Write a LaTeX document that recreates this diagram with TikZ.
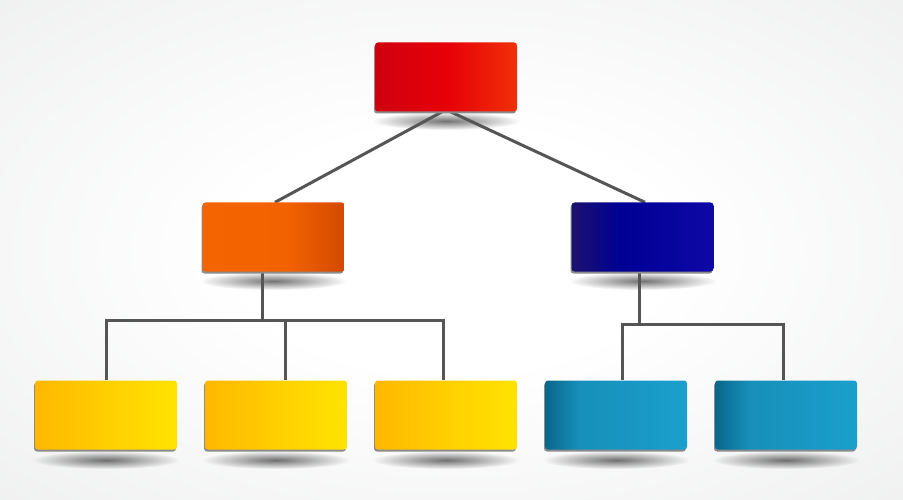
\documentclass[tikz,border=0pt]{standalone}
\usetikzlibrary{shadows,fadings}
\pgfdeclarelayer{bg}
\pgfdeclarelayer{mid}
\pgfsetlayers{bg,mid,main}
\definecolor{lnc}{HTML}{555555}
\definecolor{bgedge}{HTML}{E2E3E4}
\definecolor{redA}{HTML}{CF0010}
\definecolor{redB}{HTML}{E60008}
\definecolor{redC}{HTML}{F03008}
\definecolor{orA}{HTML}{F46400}
\definecolor{orB}{HTML}{F26200}
\definecolor{orC}{HTML}{D44A00}
\definecolor{blA}{HTML}{1C126E}
\definecolor{blB}{HTML}{000094}
\definecolor{blC}{HTML}{0E08A6}
\definecolor{yeA}{HTML}{FFB800}
\definecolor{yeB}{HTML}{FFCF00}
\definecolor{yeC}{HTML}{FFE300}
\definecolor{teA}{HTML}{08668A}
\definecolor{teB}{HTML}{178FBA}
\definecolor{teC}{HTML}{1AA0CC}
\pgfdeclareradialshading{bgshade}{\pgfpoint{0bp}{0bp}}{color(0bp)=(white); color(12bp)=(white); color(58bp)=(bgedge); color(75bp)=(bgedge)}
\pgfdeclarehorizontalshading{redsh}{100bp}{color(0bp)=(redA); color(25bp)=(redA); color(50bp)=(redB); color(75bp)=(redC); color(100bp)=(redC)}
\pgfdeclarehorizontalshading{orangesh}{100bp}{color(0bp)=(orA); color(25bp)=(orA); color(55bp)=(orB); color(75bp)=(orC); color(100bp)=(orC)}
\pgfdeclarehorizontalshading{bluesh}{100bp}{color(0bp)=(blA); color(25bp)=(blA); color(42bp)=(blB); color(75bp)=(blC); color(100bp)=(blC)}
\pgfdeclarehorizontalshading{yellowsh}{100bp}{color(0bp)=(yeA); color(25bp)=(yeA); color(50bp)=(yeB); color(75bp)=(yeC); color(100bp)=(yeC)}
\pgfdeclarehorizontalshading{tealsh}{100bp}{color(0bp)=(teA); color(25bp)=(teA); color(37bp)=(teB); color(75bp)=(teC); color(100bp)=(teC)}
\tikzfading[name=shfade, inner color=transparent!0, outer color=transparent!100]
\tikzset{
  box/.style={minimum width=142pt, minimum height=69pt, rounded corners=3pt, inner sep=0pt,
    general shadow={shadow xshift=-1pt, shadow yshift=-2pt, fill=black!45}},
  redbox/.style={box, shading=redsh},
  orangebox/.style={box, shading=orangesh},
  bluebox/.style={box, shading=bluesh},
  yellowbox/.style={box, shading=yellowsh},
  tealbox/.style={box, shading=tealsh},
  conn/.style={draw=lnc, line width=3pt},
  shad/.style={fill=black, fill opacity=0.55, path fading=shfade}
}
\begin{document}
\begin{tikzpicture}[x=1pt,y=-1pt]
\useasboundingbox (0,0) rectangle (903,500);
\begin{pgfonlayer}{bg}
\shade[shading=bgshade] (0,0) rectangle (903,500);
\foreach \cx/\by in {446/113, 273.5/273, 642.5/273, 106/452, 276/452, 446/452, 616/452, 786/452}{
  \fill[shad] (\cx,\by+8) ellipse (74pt and 9pt);
}
\end{pgfonlayer}
\node[redbox] (r) at (446,77) {};
\node[orangebox] (o) at (273.5,237) {};
\node[bluebox] (b) at (642.5,237) {};
\node[yellowbox] (y1) at (106,415) {};
\node[yellowbox] (y2) at (276,415) {};
\node[yellowbox] (y3) at (446,415) {};
\node[tealbox] (t1) at (616,415) {};
\node[tealbox] (t2) at (786,415) {};
\coordinate (jl) at (262,320);
\coordinate (jr) at (639,324);
\coordinate (v2) at (285,320);
\coordinate (v3) at (443,320);
\coordinate (w1) at (622,324);
\coordinate (w2) at (783,324);
\begin{pgfonlayer}{mid}
\draw[conn] ([yshift=2pt]r.south) -- ([xshift=1.5pt]o.north);
\draw[conn] ([yshift=2pt]r.south) -- ([xshift=2.5pt]b.north);
\draw[conn] (o.south -| jl) -- (jl);
\draw[conn] (b.south -| jr) -- (jr);
\draw[conn, line join=miter] (y1.north) -- (y1.north |- jl) -- (v3) -- (y3.north -| v3);
\draw[conn] (v2) -- (y2.north -| v2);
\draw[conn, line join=miter] (t1.north -| w1) -- (w1) -- (w2) -- (t2.north -| w2);
\end{pgfonlayer}
\end{tikzpicture}
\end{document}
